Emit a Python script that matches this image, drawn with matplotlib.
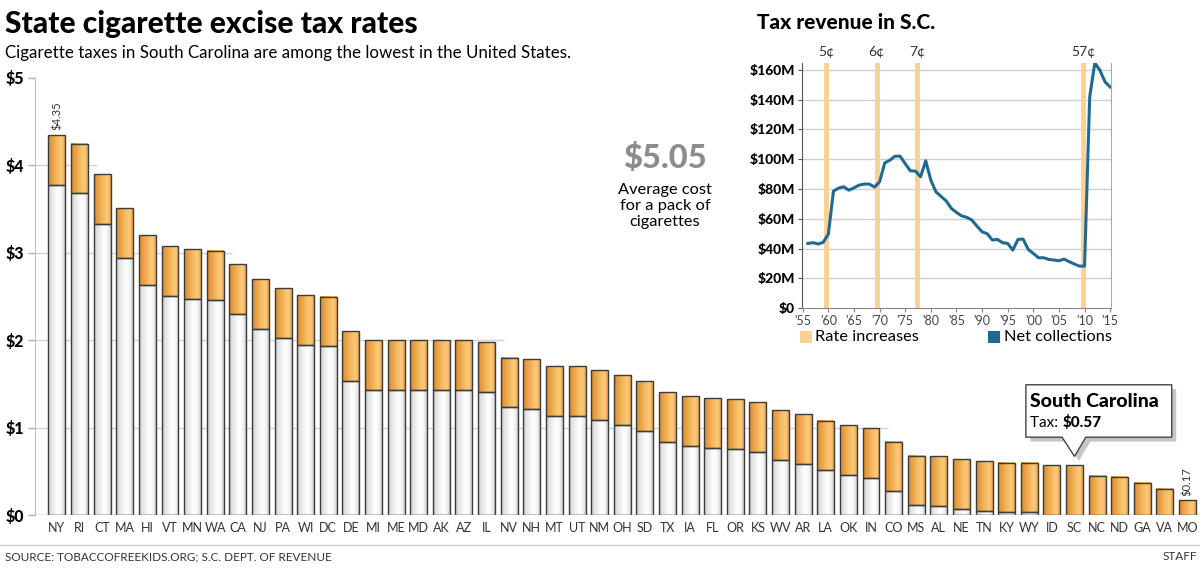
import numpy as np
import matplotlib
matplotlib.use("Agg")
import matplotlib.pyplot as plt
from matplotlib.colors import LinearSegmentedColormap
from matplotlib.patches import Polygon, Rectangle
from matplotlib.lines import Line2D

# state cigarette excise tax, $ per pack
states = ["NY", "RI", "CT", "MA", "HI", "VT", "MN", "WA", "CA", "NJ", "PA", "WI", "DC",
          "DE", "MI", "ME", "MD", "AK", "AZ", "IL", "NV", "NH", "MT", "UT", "NM", "OH",
          "SD", "TX", "IA", "FL", "OR", "KS", "WV", "AR", "LA", "OK", "IN", "CO", "MS",
          "AL", "NE", "TN", "KY", "WY", "ID", "SC", "NC", "ND", "GA", "VA", "MO"]
tax = [4.35, 4.25, 3.90, 3.51, 3.20, 3.08, 3.04, 3.025, 2.87, 2.70, 2.60, 2.52, 2.50,
       2.10, 2.00, 2.00, 2.00, 2.00, 2.00, 1.98, 1.80, 1.78, 1.70, 1.70, 1.66, 1.60,
       1.53, 1.41, 1.36, 1.34, 1.33, 1.29, 1.20, 1.15, 1.08, 1.03, 0.995, 0.84, 0.68,
       0.675, 0.64, 0.62, 0.60, 0.60, 0.57, 0.57, 0.45, 0.44, 0.37, 0.30, 0.17]
sc_tax = 0.57

# S.C. net cigarette tax collections, $ millions
years = list(range(1956, 2016))
collections = [43.5, 44.0, 43.1, 44.2, 49.8, 78.6, 80.6, 81.5, 79.2, 80.8,
               82.6, 83.3, 83.3, 81.3, 84.8, 97.5, 99.3, 102.0, 102.0, 97.0,
               92.2, 92.0, 88.2, 98.9, 85.9, 78.1, 75.0, 72.0, 67.0, 64.3,
               62.0, 61.0, 59.2, 55.1, 51.3, 50.0, 45.8, 46.2, 44.0, 43.5,
               39.0, 46.2, 46.4, 39.5, 36.8, 33.9, 33.9, 32.8, 32.4, 31.9,
               33.0, 31.25, 29.7, 28.3, 28.3, 141.7, 164.5, 159.6, 151.8, 148.4]
rate_years = [1959.6, 1969.45, 1977.3, 2009.75]
rate_labels = ["5¢", "6¢", "7¢", "57¢"]

W, H = 1200, 572
plt.rcParams["font.family"] = ["Lato", "DejaVu Sans"]

fig = plt.figure(figsize=(12, 5.72), dpi=100)

def fx(px):
    return px / W

def fy(py):
    return 1 - py / H

# ---- main bar chart
ax = fig.add_axes([fx(35), fy(515), 1 - fx(35), fy(78) - fy(515)])
xlo, xhi = -0.97, 50.55
bw = 0.75

orange = LinearSegmentedColormap.from_list(
    "o", [(0, "#d4862a"), (0.15, "#e4983c"), (0.55, "#f6bb62"), (0.82, "#fcca7c"), (1, "#e9a24c")])
white = LinearSegmentedColormap.from_list(
    "w", [(0, "#c9c9c9"), (0.2, "#e4e4e4"), (0.6, "#ffffff"), (0.85, "#f3f3f3"), (1, "#c8c8c8")])
grad = np.linspace(0, 1, 64).reshape(1, -1)

for i, v in enumerate(tax):
    split = max(v - sc_tax, 0)
    if split > 0:
        ax.imshow(grad, cmap=white, extent=[i - bw / 2, i + bw / 2, 0, split],
                  aspect="auto", zorder=2, interpolation="bicubic")
        ax.add_patch(Rectangle((i - bw / 2, 0), bw, split, fill=False,
                               ec="#3c3c3c", lw=1, zorder=3))
    ax.imshow(grad, cmap=orange, extent=[i - bw / 2, i + bw / 2, split, v],
              aspect="auto", zorder=2, interpolation="bicubic")
    ax.add_patch(Rectangle((i - bw / 2, split), bw, v - split, fill=False,
                           ec="#3c3c3c", lw=1, zorder=3))

# gridlines only run as far as the bars that reach them
for level in range(1, 5):
    last = max(i for i, v in enumerate(tax) if v >= level - 0.03)
    ax.hlines(level, xlo, last + 0.75, color="#d2d2d2", lw=1, zorder=1)
ax.axhline(0, color="#8c8c8c", lw=1, zorder=4)

ax.set_xlim(xlo, xhi)
ax.set_ylim(0, 5)
ax.set_yticks(range(6))
ax.set_yticklabels([f"${k}" for k in range(6)], fontsize=11.5, fontweight="black")
ax.set_xticks(range(len(states)))
ax.set_xticklabels(states, fontsize=9, color="#333333")
ax.tick_params(axis="x", length=0, pad=5)
ax.tick_params(axis="y", length=5, width=1, color="#b0b0b0", pad=3)
for s in ["top", "right", "bottom"]:
    ax.spines[s].set_visible(False)
ax.spines["left"].set_color("#c0c0c0")
ax.set_facecolor("none")

ax.text(0, tax[0] + 0.05, f"${tax[0]:.2f}", rotation=90, ha="center", va="bottom",
        fontsize=8, color="#333333")
ax.text(len(tax) - 1, tax[-1] + 0.05, f"${tax[-1]:.2f}", rotation=90, ha="center",
        va="bottom", fontsize=8, color="#333333")

# callout for South Carolina
sc_i = states.index("SC")
bx0, bx1 = sc_i - 2.15, sc_i + 4.3
by0, by1 = sc_tax + 0.32, sc_tax + 0.92
call = [(bx0, by1), (bx1, by1), (bx1, by0), (sc_i + 0.5, by0), (sc_i, sc_tax + 0.1),
        (sc_i - 0.55, by0), (bx0, by0)]
dx, dy = 0.2, 0.05
ax.add_patch(Polygon([(x + dx, y - dy) for x, y in call], closed=True, fc="#b8b8b8",
                     ec="none", alpha=0.8, zorder=5))
ax.add_patch(Polygon(call, closed=True, fc="white", ec="#444444", lw=1, zorder=6))
ax.text(sc_i - 1.95, sc_tax + 0.73, "South Carolina", fontsize=14, fontweight="black",
        va="center", ha="left", zorder=7)
t1 = ax.text(sc_i - 1.95, sc_tax + 0.48, "Tax: ", fontsize=11,
             va="center", ha="left", zorder=7)
ax.annotate(f"${sc_tax:.2f}", xy=(1, 0), xycoords=t1, va="bottom", ha="left",
            fontsize=11, fontweight="black", zorder=7)

# ---- inset: revenue
ax2 = fig.add_axes([fx(801.7), fy(308.3), fx(1110.7) - fx(801.7), fy(63) - fy(308.3)])
ax2.set_facecolor("none")
ax2.set_xlim(1954.8, 2015.1)
ax2.set_ylim(0, 164.5)
for g in range(20, 161, 20):
    ax2.axhline(g, color="#cfcfcf", lw=1, zorder=1)
for ry, rl in zip(rate_years, rate_labels):
    ax2.axvline(ry, color="#fbd193", lw=3.5, zorder=2)
    ax2.text(ry, 168, rl, ha="center", va="bottom", fontsize=10, color="#333333")
ax2.plot(years, collections, color="#1f6a93", lw=2.2, zorder=3, solid_joinstyle="round")
ax2.set_yticks(range(0, 161, 20))
ax2.set_yticklabels(["$0"] + [f"${g}M" for g in range(20, 161, 20)], fontsize=10,
                    fontweight="black")
ax2.set_xticks(range(1955, 2016, 5))
ax2.set_xticklabels([f"'{y % 100:02d}" for y in range(1955, 2016, 5)], fontsize=9,
                    color="#444444")
ax2.tick_params(axis="x", length=3, color="#888888", pad=2)
ax2.tick_params(axis="y", length=3, color="#555555", pad=2)
ax2.spines["top"].set_visible(False)
ax2.spines["left"].set_color("#555555")
ax2.spines["bottom"].set_color("#888888")
ax2.spines["right"].set_color("#aaaaaa")

# legend
fig.add_artist(Rectangle((fx(800), fy(343)), fx(12), fy(331) - fy(343), fc="#fbd193",
                         ec="none", transform=fig.transFigure))
fig.text(fx(815), fy(337), "Rate increases", fontsize=11.8, va="center", ha="left")
fig.add_artist(Rectangle((fx(988), fy(343)), fx(12), fy(331) - fy(343), fc="#1f6a93",
                         ec="none", transform=fig.transFigure))
fig.text(fx(1004), fy(337), "Net collections", fontsize=11.8, va="center", ha="left")

# ---- titles and notes
fig.text(fx(5), fy(33), "State cigarette excise tax rates", fontsize=21.5,
         fontweight="black", va="baseline")
fig.text(fx(5), fy(58), "Cigarette taxes in South Carolina are among the lowest in the United States.",
         fontsize=12.2, va="baseline")
fig.text(fx(757), fy(29), "Tax revenue in S.C.", fontsize=15, fontweight="black",
         va="baseline")
fig.text(fx(665), fy(158), "$5.05", fontsize=23.5, fontweight="black", color="#8c8c8c",
         ha="center", va="center")
fig.text(fx(665), fy(206), "Average cost\nfor a pack of\ncigarettes", fontsize=11.8,
         ha="center", va="center", linespacing=1.15)

fig.add_artist(Line2D([0, 1], [fy(545), fy(545)], color="#cccccc", lw=1,
                      transform=fig.transFigure))
fig.text(fx(5), fy(557), "SOURCE: TOBACCOFREEKIDS.ORG; S.C. DEPT. OF REVENUE", fontsize=8.5,
         va="center", color="#333333")
fig.text(fx(1197), fy(557), "STAFF", fontsize=8.5, va="center", ha="right",
         color="#333333")

fig.savefig("out.png", dpi=100)
